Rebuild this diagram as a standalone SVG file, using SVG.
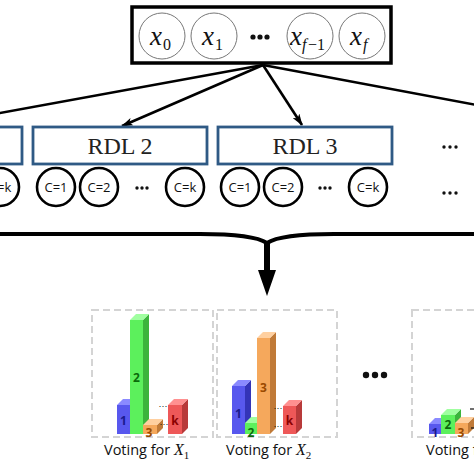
<svg xmlns="http://www.w3.org/2000/svg" width="474" height="474" viewBox="0 0 474 474">
<defs>
<marker id="ah" viewBox="0 0 12 8" refX="11" refY="4" markerWidth="12" markerHeight="8" markerUnits="userSpaceOnUse" orient="auto">
<path d="M0,0 L12,4 L0,8 L3,4 Z" fill="#000"/>
</marker>
<style>
.math{font-family:"Liberation Serif",serif;font-style:italic;font-size:27px;fill:#111}
.sub{font-family:"Liberation Serif",serif;font-size:16px;fill:#111}
.subi{font-family:"Liberation Serif",serif;font-style:italic;font-size:16px;fill:#111}
.xc{fill:#fff;stroke:#777;stroke-width:1}
.rdl{fill:#fff;stroke:#2f5a85;stroke-width:2.8}
.rdlt{font-family:"Liberation Serif",serif;font-size:24px;fill:#222;text-anchor:middle}
.cc{fill:#fff;stroke:#000;stroke-width:2.6}
.ct{font-family:"Open Sans","Liberation Sans",sans-serif;font-size:13px;fill:#111;text-anchor:middle}
.conn{fill:none;stroke:#000;stroke-width:2.6}
.dash{fill:#fff;stroke:#d4d4d4;stroke-width:2;stroke-dasharray:7,4}
.lab{font-family:"Open Sans","Liberation Sans",sans-serif;font-size:14.5px;fill:#111}
.labm{font-family:"Liberation Serif",serif;font-style:italic;font-size:16px;fill:#111}
.labs{font-family:"Liberation Serif",serif;font-size:11px;fill:#111}
.bl{font-family:"Open Sans","Liberation Sans",sans-serif;font-weight:bold;font-size:12px;text-anchor:middle}
</style>
</defs>

<g id="features">
<rect x="132" y="7" width="259" height="56" fill="#fff" stroke="#000" stroke-width="3.5"/>
<circle class="xc" cx="162" cy="36" r="23"/>
<text class="math" x="150" y="45">x</text><text class="sub" x="163" y="50">0</text>
<circle class="xc" cx="214" cy="36" r="23"/>
<text class="math" x="202" y="45">x</text><text class="sub" x="215" y="50">1</text>
<circle cx="253" cy="37" r="2.6" fill="#111"/><circle cx="260" cy="37" r="2.6" fill="#111"/><circle cx="267" cy="37" r="2.6" fill="#111"/>
<circle class="xc" cx="310" cy="36" r="23"/>
<text class="math" x="290" y="45">x</text><text class="subi" x="302" y="50">f</text><text class="sub" x="308" y="50">−1</text>
<circle class="xc" cx="362" cy="36" r="23"/>
<text class="math" x="350" y="45">x</text><text class="subi" x="363" y="50">f</text>
</g>

<g id="connectors">
<line class="conn" x1="263" y1="65" x2="-60" y2="124"/>
<line class="conn" x1="263" y1="65" x2="122" y2="126" marker-end="url(#ah)"/>
<line class="conn" x1="263" y1="65" x2="302" y2="125" marker-end="url(#ah)"/>
<line class="conn" x1="263" y1="65" x2="530" y2="115"/>
<path d="M0,234 H200 C235,234 258,237 267,243 C276,237 299,234 334,234 H474" fill="none" stroke="#000" stroke-width="4"/>
<line x1="267" y1="241" x2="267" y2="272" stroke="#000" stroke-width="6"/>
<path d="M258,270 L276,270 L267,296 Z" fill="#000"/>
</g>

<g id="rdl1">
<rect class="rdl" x="-152" y="127" width="174" height="37"/>
<circle class="cc" cx="0" cy="187" r="19"/>
<text class="ct" x="0" y="191.5">C=k</text>
</g>

<g id="rdl2">
<rect class="rdl" x="33" y="127" width="174" height="37"/>
<text class="rdlt" x="120" y="154">RDL 2</text>
<circle class="cc" cx="56" cy="187" r="19"/><text class="ct" x="56" y="191.5">C=1</text>
<circle class="cc" cx="99" cy="187" r="19"/><text class="ct" x="99" y="191.5">C=2</text>
<circle cx="137" cy="188" r="1.7" fill="#111"/><circle cx="142" cy="188" r="1.7" fill="#111"/><circle cx="147" cy="188" r="1.7" fill="#111"/>
<circle class="cc" cx="185" cy="187" r="19"/><text class="ct" x="185" y="191.5">C=k</text>
</g>

<g id="rdl3">
<rect class="rdl" x="218" y="127" width="174" height="37"/>
<text class="rdlt" x="305" y="154">RDL 3</text>
<circle class="cc" cx="240" cy="187" r="19"/><text class="ct" x="240" y="191.5">C=1</text>
<circle class="cc" cx="283" cy="187" r="19"/><text class="ct" x="283" y="191.5">C=2</text>
<circle cx="320" cy="188" r="1.7" fill="#111"/><circle cx="325" cy="188" r="1.7" fill="#111"/><circle cx="330" cy="188" r="1.7" fill="#111"/>
<circle class="cc" cx="368" cy="187" r="19"/><text class="ct" x="368" y="191.5">C=k</text>
</g>

<g id="more">
<circle cx="444" cy="147" r="1.7" fill="#111"/><circle cx="450" cy="147" r="1.7" fill="#111"/><circle cx="456" cy="147" r="1.7" fill="#111"/>
<circle cx="444" cy="193" r="1.7" fill="#111"/><circle cx="450" cy="193" r="1.7" fill="#111"/><circle cx="456" cy="193" r="1.7" fill="#111"/>
</g>

<g id="vote1">
<rect class="dash" x="92" y="310" width="121" height="127"/>
<polygon points="130,405 136,399 136,428 130,434" fill="#3434b8"/>
<polygon points="117,405 123,399 136,399 130,405" fill="#8a8aff"/>
<rect x="117" y="405" width="13" height="29" fill="#5858ee"/>
<polygon points="143,320 149,314 149,428 143,434" fill="#3cb43c"/>
<polygon points="130,320 136,314 149,314 143,320" fill="#a0ffa0"/>
<rect x="130" y="320" width="13" height="114" fill="#5cf05c"/>
<polygon points="157,425 163,419 163,428 157,434" fill="#c07a38"/>
<polygon points="143,425 149,419 163,419 157,425" fill="#ffd0a0"/>
<rect x="143" y="425" width="14" height="9" fill="#f5a85c"/>
<polygon points="182,405 188,399 188,428 182,434" fill="#b83a3a"/>
<polygon points="168,405 174,399 188,399 182,405" fill="#ff9090"/>
<rect x="168" y="405" width="14" height="29" fill="#ee5858"/>
<text class="bl" x="123.5" y="425" fill="#1a1a8c">1</text>
<text class="bl" x="136.5" y="382" fill="#0a6a0a">2</text>
<text class="bl" x="149" y="437" fill="#9a4a00">3</text>
<text class="bl" x="175" y="425" fill="#8b0000">k</text>
<text x="163" y="409" font-family="Liberation Sans,sans-serif" font-size="9" text-anchor="middle" fill="#111">···</text>
<text x="164" y="427" font-family="Liberation Sans,sans-serif" font-size="9" text-anchor="middle" fill="#111">···</text>
<text x="104" y="455"><tspan class="lab">Voting for </tspan><tspan class="labm">X</tspan><tspan class="labs" dy="4">1</tspan></text>
</g>

<g id="vote2">
<rect class="dash" x="217" y="310" width="120" height="127"/>
<polygon points="245,386 251,380 251,428 245,434" fill="#3434b8"/>
<polygon points="232,386 238,380 251,380 245,386" fill="#8a8aff"/>
<rect x="232" y="386" width="13" height="48" fill="#5858ee"/>
<polygon points="257,423 263,417 263,428 257,434" fill="#3cb43c"/>
<polygon points="245,423 251,417 263,417 257,423" fill="#a0ffa0"/>
<rect x="245" y="423" width="12" height="11" fill="#5cf05c"/>
<polygon points="270,338 276,332 276,428 270,434" fill="#c07a38"/>
<polygon points="257,338 263,332 276,332 270,338" fill="#ffd0a0"/>
<rect x="257" y="338" width="13" height="96" fill="#f5a85c"/>
<polygon points="296,406 302,400 302,428 296,434" fill="#b83a3a"/>
<polygon points="283,406 289,400 302,400 296,406" fill="#ff9090"/>
<rect x="283" y="406" width="13" height="28" fill="#ee5858"/>
<text class="bl" x="238.5" y="418" fill="#1a1a8c">1</text>
<text class="bl" x="251" y="437" fill="#0a6a0a">2</text>
<text class="bl" x="263.5" y="392" fill="#9a4a00">3</text>
<text class="bl" x="289.5" y="425" fill="#8b0000">k</text>
<text x="278" y="411" font-family="Liberation Sans,sans-serif" font-size="9" text-anchor="middle" fill="#111">···</text>
<text x="278" y="429" font-family="Liberation Sans,sans-serif" font-size="9" text-anchor="middle" fill="#111">···</text>
<text x="226" y="455"><tspan class="lab">Voting for </tspan><tspan class="labm">X</tspan><tspan class="labs" dy="4">2</tspan></text>
</g>

<g id="gap-dots">
<circle cx="366" cy="375" r="3.2" fill="#111"/><circle cx="375" cy="375" r="3.2" fill="#111"/><circle cx="384" cy="375" r="3.2" fill="#111"/>
</g>

<g id="vote3">
<rect class="dash" x="412" y="310" width="80" height="127"/>
<polygon points="441,424 447,418 447,428 441,434" fill="#3434b8"/>
<polygon points="429,424 435,418 447,418 441,424" fill="#8a8aff"/>
<rect x="429" y="424" width="12" height="10" fill="#5858ee"/>
<polygon points="455,415 461,409 461,428 455,434" fill="#3cb43c"/>
<polygon points="441,415 447,409 461,409 455,415" fill="#a0ffa0"/>
<rect x="441" y="415" width="14" height="19" fill="#5cf05c"/>
<polygon points="468,423 474,417 474,428 468,434" fill="#c07a38"/>
<polygon points="455,423 461,417 474,417 468,423" fill="#ffd0a0"/>
<rect x="455" y="423" width="13" height="11" fill="#f5a85c"/>
<text class="bl" x="435" y="437" fill="#1a1a8c">1</text>
<text class="bl" x="448" y="429" fill="#0a6a0a">2</text>
<text class="bl" x="461" y="437" fill="#9a4a00">3</text>
<line x1="470" y1="409" x2="474" y2="409" stroke="#111" stroke-width="1.2"/>
<line x1="471" y1="428" x2="474" y2="428" stroke="#111" stroke-width="1.2"/>
<text x="426" y="455"><tspan class="lab">Voting for </tspan><tspan class="labm">X</tspan><tspan class="labs" dy="4">f</tspan></text>
</g>
</svg>
